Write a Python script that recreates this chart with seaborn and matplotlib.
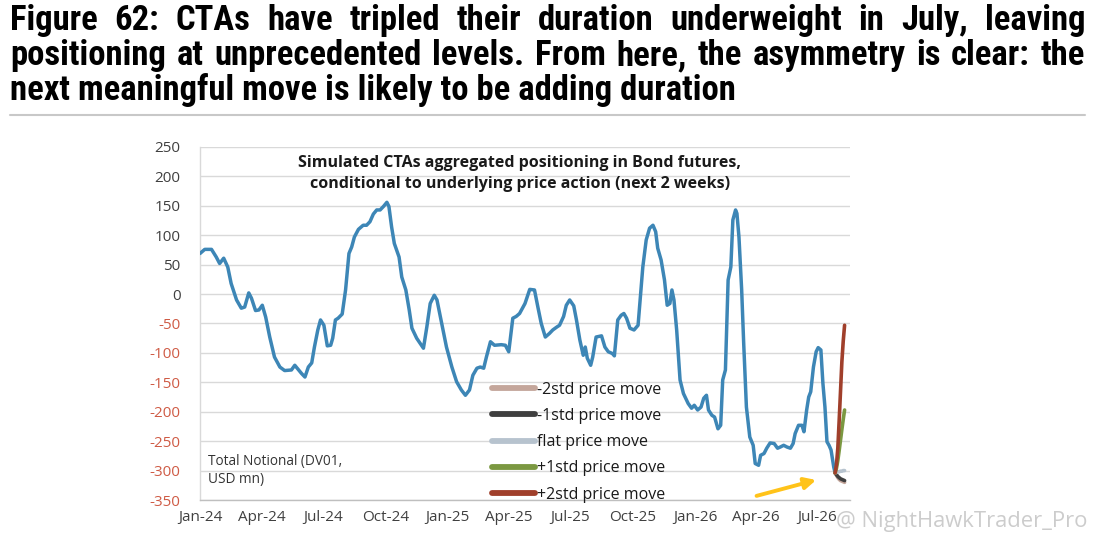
import matplotlib
matplotlib.use("Agg")
import matplotlib.pyplot as plt
import matplotlib.font_manager as fm
from matplotlib.lines import Line2D
import seaborn as sns
import pandas as pd

# ---------------- data ----------------
hist_dates = [
    '2024-01-01', '2024-01-08', '2024-01-18', '2024-01-25', '2024-01-30',
    '2024-02-05', '2024-02-11', '2024-02-16', '2024-02-24',
    '2024-03-02', '2024-03-07', '2024-03-13', '2024-03-17', '2024-03-23', '2024-03-28',
    '2024-04-02', '2024-04-07', '2024-04-13', '2024-04-20', '2024-04-28',
    '2024-05-05', '2024-05-15', '2024-05-20', '2024-05-25', '2024-05-30',
    '2024-06-04', '2024-06-09', '2024-06-14', '2024-06-18', '2024-06-23', '2024-06-27',
    '2024-07-02', '2024-07-07', '2024-07-12', '2024-07-15', '2024-07-19', '2024-07-23', '2024-07-29',
    '2024-08-03', '2024-08-08', '2024-08-12', '2024-08-16', '2024-08-22', '2024-08-29',
    '2024-09-03', '2024-09-08', '2024-09-13', '2024-09-18', '2024-09-23', '2024-09-28',
    '2024-10-03', '2024-10-06', '2024-10-10', '2024-10-14', '2024-10-21', '2024-10-25', '2024-10-31',
    '2024-11-05', '2024-11-09', '2024-11-16', '2024-11-26',
    '2024-12-01', '2024-12-06', '2024-12-12', '2024-12-16', '2024-12-23', '2024-12-30',
    '2025-01-07', '2025-01-14', '2025-01-21', '2025-01-27',
    '2025-02-02', '2025-02-07', '2025-02-13', '2025-02-18', '2025-02-23', '2025-02-27',
    '2025-03-05', '2025-03-11', '2025-03-21', '2025-03-27',
    '2025-04-01', '2025-04-07', '2025-04-12', '2025-04-17', '2025-04-25',
    '2025-05-02', '2025-05-09', '2025-05-14', '2025-05-19', '2025-05-25', '2025-05-31',
    '2025-06-05', '2025-06-11', '2025-06-15', '2025-06-21', '2025-06-25', '2025-06-30',
    '2025-07-06', '2025-07-10', '2025-07-15', '2025-07-20', '2025-07-23', '2025-07-26', '2025-07-31',
    '2025-08-03', '2025-08-08', '2025-08-16', '2025-08-21', '2025-08-26',
    '2025-09-01', '2025-09-04', '2025-09-09', '2025-09-14', '2025-09-18', '2025-09-22', '2025-09-27',
    '2025-10-03', '2025-10-09', '2025-10-12', '2025-10-16', '2025-10-21', '2025-10-26', '2025-10-31',
    '2025-11-04', '2025-11-07', '2025-11-12', '2025-11-17', '2025-11-21', '2025-11-25', '2025-11-28',
    '2025-12-01', '2025-12-05', '2025-12-10', '2025-12-15', '2025-12-22', '2025-12-27', '2025-12-31',
    '2026-01-05', '2026-01-10', '2026-01-14', '2026-01-18', '2026-01-21', '2026-01-26', '2026-01-30',
    '2026-02-04', '2026-02-08', '2026-02-11', '2026-02-15', '2026-02-19', '2026-02-23', '2026-02-26',
    '2026-03-02', '2026-03-04', '2026-03-07', '2026-03-11', '2026-03-14', '2026-03-18', '2026-03-23',
    '2026-03-28', '2026-03-31',
    '2026-04-05', '2026-04-08', '2026-04-13', '2026-04-17', '2026-04-22', '2026-04-28',
    '2026-05-03', '2026-05-07', '2026-05-12', '2026-05-17', '2026-05-22', '2026-05-26', '2026-05-29',
    '2026-06-03', '2026-06-08', '2026-06-11', '2026-06-15', '2026-06-18', '2026-06-21', '2026-06-25',
    '2026-06-29',
    '2026-07-02', '2026-07-06', '2026-07-09', '2026-07-12', '2026-07-15', '2026-07-18', '2026-07-21',
    '2026-07-25', '2026-07-27',
]
hist_values = [
    69, 76, 76, 63, 52,
    61, 46, 18, -10,
    -24, -22, 2, -7, -28, -27,
    -19, -39, -73, -107, -124,
    -130, -129, -121, -128, -135,
    -141, -124, -117, -90, -61, -44,
    -53, -88, -87, -75, -44, -41, -34,
    7, 69, 80, 97, 110, 117,
    117, 123, 136, 143, 143, 149,
    156, 149, 114, 86, 63, 29, 7,
    -27, -58, -75, -92,
    -56, -16, -2, -10, -50, -90,
    -124, -149, -163, -172,
    -163, -138, -126, -124, -126, -107,
    -81, -87, -86, -87,
    -98, -41, -38, -33, -16,
    8, 7, -22, -50, -73, -67,
    -61, -56, -53, -38, -19, -10,
    -20, -44, -78, -104, -90, -109, -121,
    -107, -73, -71, -90, -98,
    -101, -105, -44, -36, -33, -41, -58,
    -61, -53, -10, 46, 92, 112, 117,
    106, 78, 58, 24, -19, -16, 7,
    -10, -61, -146, -169, -186, -194, -189,
    -197, -192, -177, -172, -197, -206, -209,
    -229, -223, -146, -129, 24, 46, 126,
    143, 137, 97, 7, -84, -192, -243,
    -257, -288,
    -291, -274, -271, -262, -253, -254,
    -262, -260, -257, -260, -262, -254, -237,
    -223, -223, -234, -197, -175, -166, -124,
    -98,
    -91, -95, -152, -192, -251, -257, -265,
    -294, -304,
]

scen_dates = ['2026-07-27', '2026-07-29', '2026-07-31', '2026-08-02',
              '2026-08-04', '2026-08-06', '2026-08-08', '2026-08-10']
scen_minus2 = [-304, -308, -312, -315, -317, -318, -319, -320]
scen_minus1 = [-304, -307, -310, -312, -314, -315, -316, -317]
scen_flat = [-304, -303, -302, -302, -301, -301, -300, -300]
scen_plus1 = [-304, -296, -283, -266, -248, -230, -213, -197]
scen_plus2 = [-304, -290, -262, -215, -165, -115, -80, -53]
scenario_labels = ['-2std price move', '-1std price move', 'flat price move',
                   '+1std price move', '+2std price move']
scenario_values = [scen_minus2, scen_minus1, scen_flat, scen_plus1, scen_plus2]
scenario_colors = ['#C4A69B', '#3F3F3F', '#B7C3CE', '#7B9841', '#A03F2B']

y_ticks = [250, 200, 150, 100, 50, 0, -50, -100, -150, -200, -250, -300, -350]
x_tick_dates = ['2024-01-01', '2024-04-01', '2024-07-01', '2024-10-01',
                '2025-01-01', '2025-04-01', '2025-07-01', '2025-10-01',
                '2026-01-01', '2026-04-01', '2026-07-01']
x_tick_labels = ['Jan-24', 'Apr-24', 'Jul-24', 'Oct-24', 'Jan-25', 'Apr-25',
                 'Jul-25', 'Oct-25', 'Jan-26', 'Apr-26', 'Jul-26']

title_lines = [
    "Figure 62: CTAs have tripled their duration underweight in July, leaving",
    "positioning at unprecedented levels. From here, the asymmetry is clear: the",
    "next meaningful move is likely to be adding duration",
]
inner_title = ["Simulated CTAs aggregated positioning in Bond futures,",
               "conditional to underlying price action (next 2 weeks)"]
unit_label = ["Total Notional (DV01,", "USD mn)"]

# ---------------- styling ----------------
sns.set_theme(style="white")
available = {f.name for f in fm.fontManager.ttflist}

def pick(cands):
    fams = [c for c in cands if c in available]
    return fams + ['DejaVu Sans']

CHART_FAMILY = pick(['Open Sans', 'Noto Sans'])
TITLE_FAMILY = pick(['Liberation Sans Narrow', 'Roboto Condensed', 'Open Sans Condensed', 'Liberation Sans'])
plt.rcParams['font.family'] = CHART_FAMILY
plt.rcParams['axes.unicode_minus'] = False

W, H = 1100, 546
fig = plt.figure(figsize=(W / 100, H / 100), dpi=100)
renderer = fig.canvas.get_renderer()

ax = fig.add_axes([200 / W, 1 - 500 / H, 650 / W, 353 / H])

hist_df = pd.DataFrame({'date': pd.to_datetime(hist_dates), 'value': hist_values})
sns.lineplot(data=hist_df, x='date', y='value', ax=ax, color='#3D86B6',
             lw=2.5, legend=False, zorder=3)

for lab, vals, col in zip(scenario_labels, scenario_values, scenario_colors):
    sdf = pd.DataFrame({'date': pd.to_datetime(scen_dates), 'value': vals})
    sns.lineplot(data=sdf, x='date', y='value', ax=ax, color=col, lw=2.6,
                 label=lab, zorder=4)

ax.set_xlim(pd.Timestamp('2024-01-01'), pd.Timestamp('2026-08-18'))
ax.set_ylim(-350, 250)
ax.set_xlabel('')
ax.set_ylabel('')

ax.set_yticks(y_ticks)
ax.set_yticklabels([str(v) for v in y_ticks])
for lab, v in zip(ax.get_yticklabels(), y_ticks):
    lab.set_color('#CF5B45' if v < 0 else '#404040')
ax.set_xticks(pd.to_datetime(x_tick_dates))
ax.set_xticklabels(x_tick_labels, color='#404040')
ax.tick_params(axis='y', length=0, pad=14, labelsize=11)
ax.tick_params(axis='x', length=0, pad=7, labelsize=11)

ax.yaxis.grid(True, color='#D9D9D9', lw=1)
ax.xaxis.grid(False)
ax.set_axisbelow(True)
for s in ['top', 'right']:
    ax.spines[s].set_visible(False)
ax.spines['left'].set_color('#D9D9D9')
ax.spines['bottom'].set_color('#BFBFBF')
ax.spines['left'].set_linewidth(1)
ax.spines['bottom'].set_linewidth(1)

leg = ax.legend(loc='upper left', bbox_to_anchor=(0.449, 0.335), frameon=False,
                fontsize=11.5, handlelength=2.7, handletextpad=0.1,
                labelspacing=0.64, borderpad=0, borderaxespad=0)
for t in leg.get_texts():
    t.set_color('#1A1A1A')
for h in leg.get_lines():
    h.set_linewidth(4.2)

# inner chart title
ax.text(0.492, (500 - 163) / 353, inner_title[0], transform=ax.transAxes,
        ha='center', va='center', fontsize=11.5, fontweight='bold', color='#1A1A1A')
ax.text(0.492, (500 - 184) / 353, inner_title[1], transform=ax.transAxes,
        ha='center', va='center', fontsize=11.5, fontweight='bold', color='#1A1A1A')
# unit label
ax.text(8 / 650, (500 - 462) / 353, unit_label[0], transform=ax.transAxes,
        ha='left', va='center', fontsize=9.8, color='#333333')
ax.text(8 / 650, (500 - 479) / 353, unit_label[1], transform=ax.transAxes,
        ha='left', va='center', fontsize=9.8, color='#333333')

# yellow arrow annotation
ax.annotate('', xy=(pd.Timestamp('2026-06-29'), -316),
            xytext=(pd.Timestamp('2026-04-02'), -343),
            arrowprops=dict(arrowstyle='-|>', color='#FFC31A', lw=2.8,
                            mutation_scale=17, shrinkA=0, shrinkB=0))

# ---------------- figure title (justified) ----------------
def text_width(s, fs):
    t = fig.text(0, 0, s, fontsize=fs, family=TITLE_FAMILY, weight='bold')
    w = t.get_window_extent(renderer).width
    t.remove()
    return w

fs = 20 * 725 / text_width(title_lines[2], 20)
baselines = [30, 65, 100]
left_px, right_px = 10, 1085
for i, line in enumerate(title_lines):
    yb = 1 - baselines[i] / H
    if i < 2:
        words = line.split(' ')
        widths = [text_width(w, fs) for w in words]
        gap = (right_px - left_px - sum(widths)) / (len(words) - 1)
        x = left_px
        for w, wd in zip(words, widths):
            fig.text(x / W, yb, w, fontsize=fs, family=TITLE_FAMILY, weight='bold',
                     color='#000000', ha='left', va='baseline')
            x += wd + gap
    else:
        fig.text(left_px / W, yb, line, fontsize=fs, family=TITLE_FAMILY,
                 weight='bold', color='#000000', ha='left', va='baseline')

fig.add_artist(Line2D([10 / W, 1085 / W], [1 - 115 / H, 1 - 115 / H],
                      color='#C8C8C8', lw=1.5, transform=fig.transFigure))

# watermark
fig.text(836 / W, 1 - 521 / H, '@ NightHawkTrader_Pro', fontsize=15.8,
         color='#C4C4C4', alpha=0.85, ha='left', va='center')

fig.savefig('out.png', dpi=100)
